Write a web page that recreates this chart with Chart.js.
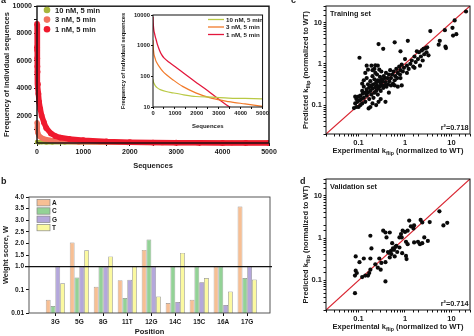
<!DOCTYPE html>
<html>
<head>
<meta charset="utf-8">
<script src="https://cdn.jsdelivr.net/npm/chart.js@4.4.1/dist/chart.umd.min.js"></script>
<style>
  body { margin: 0; background: #fff; }
  #fig { position: relative; width: 474px; height: 336px; overflow: hidden; background: #fff; }
  #fig canvas { position: absolute; }
  .tag { position: absolute; font: bold 9px "Liberation Sans", Arial, sans-serif; color: #1a1a1a; }
</style>
</head>
<body>
<div id="fig">
  <canvas id="a" width="290" height="170" style="left:0px;top:0px"></canvas>
  <canvas id="inset" width="150" height="122" style="left:120px;top:8px"></canvas>
  <canvas id="b" width="290" height="156" style="left:0px;top:180px"></canvas>
  <canvas id="c" width="184" height="170" style="left:290px;top:0px"></canvas>
  <canvas id="d" width="184" height="166" style="left:290px;top:170px"></canvas>
  <div class="tag" style="left:1px;top:-5px">a</div>
  <div class="tag" style="left:1px;top:176px">b</div>
  <div class="tag" style="left:291px;top:-5px">c</div>
  <div class="tag" style="left:300px;top:176px">d</div>
</div>
<script>
// panel a + inset: sequence rank vs frequency, per library
const seq10 = [1, 10, 50, 100, 200, 330, 600, 900, 1400, 1950, 2700, 3450, 4200, 5000];
const freq10 = [80, 70, 58, 50, 42, 37, 32, 29, 25, 22, 21, 19.6, 19, 18.3];
const seq3 = [1, 5, 10, 20, 50, 100, 150, 300, 450, 600, 900, 1350, 1950, 2700, 3450, 4200, 5000];
const freq3 = [1500, 1100, 900, 750, 500, 380, 300, 200, 145, 115, 78, 47, 29, 19, 15, 12.6, 10.5];
const seq1 = [1, 2, 3, 5, 8, 12, 20, 30, 45, 70, 100, 150, 200, 300, 400, 500, 700, 1000, 1500, 2000, 2500, 3000, 3500, 4000, 4500, 5000];
const freq1 = [8700, 7000, 6800, 6200, 5600, 5200, 4300, 3600, 3000, 2500, 2000, 1500, 1100, 700, 500, 400, 300, 210, 112, 61, 34, 18, 10, 7, 5, 4];
const libLabels = ['10 nM, 5 min', '3 nM, 5 min', '1 nM, 5 min'];

// panel b: weight scores per position and base
const positions = ['3G', '5G', '8G', '11T', '12G', '14C', '15C', '16A', '17G'];
const bases = ['A', 'C', 'G', 'T'];
const wA = [0.037, 2.04, 0.135, 0.26, 1.72, 0.027, 0.037, 1.0, 3.59];
const wC = [0.02, 0.34, 1.0, 0.044, 2.17, 1.0, 1.0, 1.0, 0.32];
const wG = [1.0, 1.0, 1.0, 0.27, 1.0, 0.03, 0.21, 0.022, 1.0];
const wT = [0.19, 1.70, 1.44, 1.0, 0.051, 1.59, 0.32, 0.085, 0.28];
const weightTicks = [0.01, 0.1, 1, 1.5, 2, 2.5, 3, 3.5, 4];

// panels c, d: [experimental, predicted] k_flip, normalized to WT
const kRange = [0.02, 25];
const trainingSet = [
  [20.5, 18.4], [11.7, 11.2], [10.5, 7.4], [7.2, 6.5], [10.8, 4.8], [12.7, 5.2], [3.5, 6.2], [5.3, 2.9],
  [7.4, 2.6], [7.6, 2.4], [5.6, 3.6], [1.15, 3.6], [0.6, 3.3], [0.27, 3.0], [0.34, 2.3], [0.8, 2.0], [0.105, 1.4],
  [2.8, 2.4], [2.5, 2.3], [2.3, 2.1], [3.0, 2.5], [2.0, 1.9], [1.8, 2.0], [2.6, 1.7], [2.9, 1.9], [2.2, 1.5],
  [1.9, 1.3], [1.6, 1.5], [1.7, 1.1], [2.1, 0.9], [1.5, 0.85], [1.4, 1.2], [1.3, 1.0], [1.2, 0.75], [1.1, 0.9],
  [1.0, 1.3], [0.95, 0.8], [0.9, 0.65], [0.85, 0.95], [0.8, 0.7], [0.78, 0.55], [0.75, 0.85], [0.7, 0.6],
  [0.68, 0.45], [0.65, 0.75], [0.62, 0.5], [0.6, 0.4], [0.57, 0.65], [0.55, 0.33], [0.53, 0.55], [0.5, 0.45],
  [0.5, 0.3], [0.48, 0.7], [0.46, 0.38], [0.45, 0.55], [0.43, 0.32], [0.42, 0.45], [0.4, 0.28], [0.39, 0.6],
  [0.38, 0.36], [0.37, 0.45], [0.36, 0.3], [0.35, 0.5], [0.34, 0.26], [0.33, 0.38], [0.32, 0.42], [0.31, 0.3],
  [0.3, 0.34], [0.3, 0.22], [0.29, 0.48], [0.28, 0.28], [0.28, 0.38], [0.27, 0.25], [0.26, 0.4], [0.26, 0.18],
  [0.25, 0.3], [0.25, 0.55], [0.24, 0.22], [0.24, 0.35], [0.23, 0.27], [0.23, 0.6], [0.22, 0.2], [0.22, 0.42],
  [0.21, 0.32], [0.21, 0.15], [0.2, 0.25], [0.2, 0.5], [0.19, 0.3], [0.19, 0.18], [0.18, 0.22], [0.18, 0.38],
  [0.17, 0.14], [0.17, 0.27], [0.16, 0.2], [0.16, 0.32], [0.15, 0.17], [0.15, 0.24], [0.15, 0.45], [0.14, 0.12],
  [0.14, 0.2], [0.13, 0.15], [0.13, 0.28], [0.125, 0.19], [0.12, 0.11], [0.12, 0.22], [0.115, 0.14], [0.11, 0.17],
  [0.11, 0.1], [0.105, 0.13], [0.1, 0.16], [0.1, 0.09], [0.095, 0.12], [0.09, 0.14], [0.09, 0.09], [0.085, 0.11],
  [0.085, 0.16], [0.08, 0.085], [0.15, 0.9], [0.19, 0.9], [0.23, 0.92], [0.26, 0.9], [0.16, 0.72], [0.2, 0.7],
  [0.22, 0.75], [0.28, 0.72], [0.31, 0.65], [0.14, 0.6], [0.12, 0.33], [0.13, 0.4], [0.165, 0.083], [0.18, 0.09],
  [0.38, 0.12], [0.27, 0.12], [0.3, 0.14], [0.2, 0.11], [0.24, 0.1], [0.45, 0.2], [0.6, 0.3], [0.7, 0.28],
  [0.85, 0.3], [0.8, 0.45], [1.1, 0.6], [1.6, 0.8], [2.4, 1.2], [3.2, 1.6]
];
const validationSet = [
  [5.5, 4.3], [6.7, 2.0], [8.1, 2.3], [3.4, 2.4], [2.17, 2.7], [2.35, 2.35], [1.23, 2.6], [1.34, 1.9],
  [1.52, 1.7], [1.57, 2.0], [1.14, 1.5], [1.0, 1.4], [0.89, 1.5], [0.82, 1.25], [0.76, 1.04], [0.85, 1.04],
  [1.05, 0.82], [1.14, 0.72], [1.57, 0.79], [1.9, 0.82], [2.35, 0.76], [2.6, 1.04], [3.1, 0.86], [2.1, 0.72],
  [0.76, 0.6], [0.65, 0.66], [0.58, 0.53], [0.68, 0.47], [0.51, 0.42], [0.43, 0.47], [0.47, 0.35], [0.6, 0.37],
  [0.87, 0.44], [1.05, 0.38], [1.08, 0.32], [0.34, 0.5], [0.31, 0.26], [0.38, 0.27], [0.28, 0.33], [0.23, 0.24],
  [0.26, 0.2], [0.3, 0.18], [0.19, 0.57], [0.18, 1.14], [0.34, 1.5], [0.38, 1.36], [0.4, 1.04], [0.47, 1.36],
  [0.53, 0.76], [0.18, 0.33], [0.13, 0.33], [0.105, 0.27], [0.18, 0.18], [0.14, 0.13], [0.16, 0.13], [0.17, 0.15],
  [0.12, 0.12], [0.087, 0.17], [0.084, 0.13], [0.092, 0.15], [0.087, 0.37], [0.38, 0.095], [0.084, 0.05],
  [0.5, 0.5], [0.55, 0.57], [0.62, 0.62], [0.45, 0.45]
];

const FONT = '"Liberation Sans", Arial, sans-serif';
Chart.defaults.font.family = FONT;
Chart.defaults.font.weight = 'bold';
Chart.defaults.font.size = 7;
Chart.defaults.color = '#1a1a1a';
Chart.defaults.animation = false;
Chart.defaults.responsive = false;
Chart.defaults.devicePixelRatio = 1;
Chart.defaults.events = [];
Chart.defaults.plugins.legend.display = false;
Chart.defaults.plugins.tooltip.enabled = false;

const tickGrid = { display: true, drawOnChartArea: false, drawTicks: true, tickLength: 3, tickColor: '#111', tickWidth: 1, offset: false };
const noBorder = { display: false };
const pairs = (xs, ys) => xs.map((x, i) => ({ x: x, y: ys[i] }));
const isDecade = v => { const e = Math.round(Math.log10(v)); return Math.abs(v - Math.pow(10, e)) < 1e-9 * Math.pow(10, e); };

// box around the plot area
const frame = {
  id: 'frame',
  afterDatasetsDraw(chart, args, o) {
    const { ctx, chartArea: a } = chart;
    ctx.save();
    ctx.strokeStyle = o.color || '#111';
    ctx.lineWidth = o.width || 1;
    ctx.strokeRect(a.left, a.top, a.right - a.left, a.bottom - a.top);
    ctx.restore();
  }
};

// ---------- panel a ----------
const aColors = ['#a8b63c', '#f2735f', '#ef1a2e'];
const dotLegend = {
  id: 'dotLegend',
  afterDraw(chart) {
    const ctx = chart.ctx;
    ctx.save();
    chart.data.datasets.forEach((ds, i) => {
      const y = 10 + i * 9.6;
      ctx.beginPath();
      ctx.arc(47, y, 3.3, 0, Math.PI * 2);
      ctx.fillStyle = ds.backgroundColor;
      ctx.fill();
      ctx.font = 'bold 7.5px ' + FONT;
      ctx.fillStyle = '#1a1a1a';
      ctx.textBaseline = 'middle';
      ctx.fillText(ds.label, 55, y + 0.5);
    });
    ctx.restore();
  }
};

new Chart(document.getElementById('a'), {
  type: 'scatter',
  data: {
    datasets: [
      { label: libLabels[0], data: pairs(seq10, freq10), backgroundColor: aColors[0], borderColor: aColors[0], showLine: true, borderWidth: 4, pointRadius: 2.2, pointBorderWidth: 0, order: 2 },
      { label: libLabels[1], data: pairs(seq3, freq3), backgroundColor: aColors[1], borderColor: aColors[1], showLine: true, borderWidth: 5, pointRadius: 2.6, pointBorderWidth: 0, order: 1 },
      { label: libLabels[2], data: pairs(seq1, freq1), backgroundColor: aColors[2], borderColor: aColors[2], showLine: true, borderWidth: 5.5, pointRadius: 2.9, pointBorderWidth: 0, order: 0 }
    ]
  },
  options: {
    layout: { padding: { top: 4, right: 21, left: 0, bottom: 0 } },
    datasets: { scatter: { clip: { left: 6, top: 6, right: 0, bottom: 3 } } },
    scales: {
      x: {
        type: 'linear', min: 0, max: 5000,
        ticks: { stepSize: 500, autoSkip: false, maxRotation: 0, padding: 2, callback: v => v % 1000 === 0 ? v : '' },
        grid: tickGrid, border: noBorder,
        title: { display: true, text: 'Sequences', font: { size: 7.5 }, padding: { top: 1, bottom: 0 } },
        afterFit: s => { s.height = 27; }
      },
      y: {
        min: 0, max: 10000,
        ticks: { stepSize: 1000, autoSkip: false, padding: 2, callback: v => v > 0 && v % 2000 === 0 ? v : '' },
        grid: tickGrid, border: noBorder,
        title: { display: true, text: 'Frequency of individual sequences', font: { size: 7.5 }, padding: { top: 2, bottom: 0 } },
        afterFit: s => { s.width = 37; }
      }
    },
    plugins: { frame: { width: 1.4 } }
  },
  plugins: [frame, dotLegend]
});

// ---------- inset ----------
const inColors = ['#b9c944', '#f27a2a', '#e3173c'];
const lineLegend = {
  id: 'lineLegend',
  afterDraw(chart) {
    const ctx = chart.ctx;
    ctx.save();
    chart.data.datasets.forEach((ds, i) => {
      const y = 11.5 + i * 7.5;
      ctx.strokeStyle = ds.borderColor;
      ctx.lineWidth = 1.3;
      ctx.beginPath();
      ctx.moveTo(88, y);
      ctx.lineTo(104, y);
      ctx.stroke();
      ctx.font = 'bold 6.2px ' + FONT;
      ctx.fillStyle = '#1a1a1a';
      ctx.textBaseline = 'middle';
      ctx.fillText(ds.label, 106, y + 0.5);
    });
    ctx.restore();
  }
};

new Chart(document.getElementById('inset'), {
  type: 'line',
  data: {
    datasets: [
      { label: libLabels[0], data: pairs(seq10, freq10), borderColor: inColors[0], borderWidth: 1.2, pointRadius: 0, tension: 0.3 },
      { label: libLabels[1], data: pairs(seq3, freq3), borderColor: inColors[1], borderWidth: 1.2, pointRadius: 0, tension: 0.3 },
      { label: libLabels[2], data: pairs(seq1, freq1), borderColor: inColors[2], borderWidth: 1.3, pointRadius: 0, tension: 0.3 }
    ]
  },
  options: {
    layout: { padding: { top: 7, right: 6, left: 0, bottom: 0 } },
    scales: {
      x: {
        type: 'linear', min: 0, max: 5000,
        ticks: { stepSize: 500, autoSkip: false, maxRotation: 0, padding: 1, font: { size: 5.8 }, callback: v => v % 1000 === 0 ? v : '' },
        grid: Object.assign({}, tickGrid, { tickLength: 2 }), border: noBorder,
        title: { display: true, text: 'Sequences', font: { size: 6 }, padding: { top: 0, bottom: 0 } },
        afterFit: s => { s.height = 23; }
      },
      y: {
        type: 'logarithmic', min: 10, max: 10000,
        ticks: { autoSkip: false, padding: 1, font: { size: 5.8 }, callback: v => isDecade(v) ? String(Math.round(v)) : '' },
        grid: Object.assign({}, tickGrid, { tickLength: 2, tickColor: c => c.tick && isDecade(c.tick.value) ? '#111' : 'rgba(0,0,0,0)' }),
        border: noBorder,
        title: { display: true, text: 'Frequency of individual sequences', font: { size: 5.8 }, padding: { top: 0, bottom: 0 } },
        afterFit: s => { s.width = 33; }
      }
    },
    plugins: { frame: { width: 1 } }
  },
  plugins: [frame, lineLegend]
});

// ---------- panel b: log part below 1.0, linear part above ----------
class BrokenScale extends Chart.LinearScale {
  determineDataLimits() {
    this.min = weightTicks[0];
    this.max = weightTicks[weightTicks.length - 1];
  }
  buildTicks() {
    return weightTicks.map(v => ({ value: v }));
  }
  span() {
    return -Math.log10(this.min) + (this.max - 1);
  }
  getPixelForValue(v) {
    if (!(v > 0)) v = this.min;
    const t = v >= 1 ? -Math.log10(this.min) + (v - 1) : Math.log10(v) - Math.log10(this.min);
    return this.getPixelForDecimal(t / this.span());
  }
  getValueForPixel(px) {
    const t = this.getDecimalForPixel(px) * this.span();
    const lo = -Math.log10(this.min);
    return t >= lo ? 1 + (t - lo) : this.min * Math.pow(10, t);
  }
}
BrokenScale.id = 'broken';
BrokenScale.defaults = {};
Chart.register(BrokenScale);

const baseColors = ['#f7bf94', '#93d296', '#b4a7db', '#fbf9a0'];
const weights = [wA, wC, wG, wT];

const unityLine = {
  id: 'unityLine',
  afterDatasetsDraw(chart) {
    const { ctx, chartArea: a, scales } = chart;
    const y = scales.y.getPixelForValue(1);
    ctx.save();
    ctx.strokeStyle = '#111';
    ctx.lineWidth = 1.3;
    ctx.beginPath();
    ctx.moveTo(a.left - 4, y);
    ctx.lineTo(a.right + 2, y);
    ctx.stroke();
    ctx.restore();
  }
};
const boxLegend = {
  id: 'boxLegend',
  afterDraw(chart) {
    const ctx = chart.ctx;
    ctx.save();
    chart.data.datasets.forEach((ds, i) => {
      const y = 22.7 + i * 8.3;
      ctx.fillStyle = ds.backgroundColor;
      ctx.fillRect(37, y - 3.2, 13, 6.4);
      ctx.strokeStyle = '#888';
      ctx.lineWidth = 0.7;
      ctx.strokeRect(37, y - 3.2, 13, 6.4);
      ctx.font = 'bold 6.5px ' + FONT;
      ctx.fillStyle = '#1a1a1a';
      ctx.textBaseline = 'middle';
      ctx.fillText(ds.label, 52, y + 0.5);
    });
    ctx.restore();
  }
};

new Chart(document.getElementById('b'), {
  type: 'bar',
  data: {
    datasets: bases.map((b, k) => ({
      label: b,
      data: weights[k].map((v, i) => ({ x: i + 1, y: v })),
      backgroundColor: baseColors[k],
      borderColor: '#8a8a8a',
      borderWidth: 0.7,
      categoryPercentage: 0.8,
      barPercentage: 1
    }))
  },
  options: {
    layout: { padding: { top: 17, right: 20, left: 0, bottom: 0 } },
    scales: {
      x: {
        type: 'linear', min: -0.1, max: 9.95, offset: false,
        afterBuildTicks: s => { s.ticks = positions.map((p, i) => ({ value: i + 1 })); },
        ticks: { autoSkip: false, maxRotation: 0, padding: 2, font: { size: 6.5 }, callback: v => positions[v - 1] },
        grid: tickGrid, border: noBorder,
        title: { display: true, text: 'Position', font: { size: 7.5 }, padding: { top: 1, bottom: 0 } },
        afterFit: s => { s.height = 23; }
      },
      y: {
        type: 'broken',
        ticks: { autoSkip: false, padding: 2, font: { size: 6.5 }, callback: v => v < 1 ? String(v) : v.toFixed(1) },
        grid: tickGrid, border: noBorder,
        title: { display: true, text: 'Weight score, W', font: { size: 7.5 }, padding: { top: 1, bottom: 0 } },
        afterFit: s => { s.width = 29; }
      }
    },
    plugins: { frame: { width: 0.9, color: '#444' } }
  },
  plugins: [frame, unityLine, boxLegend]
});

// ---------- panels c and d ----------
function richText(ctx, parts, x, y, angle) {
  const big = 'bold 7.5px ' + FONT, small = 'bold 5.3px ' + FONT;
  ctx.save();
  ctx.translate(x, y);
  ctx.rotate(angle);
  ctx.fillStyle = '#1a1a1a';
  ctx.textBaseline = 'middle';
  ctx.textAlign = 'left';
  let w = 0;
  parts.forEach(p => { ctx.font = p.sub ? small : big; w += ctx.measureText(p.t).width; });
  let cx = -w / 2;
  parts.forEach(p => {
    ctx.font = p.sub ? small : big;
    ctx.fillText(p.t, cx, p.sub ? 2.6 : 0);
    cx += ctx.measureText(p.t).width;
  });
  ctx.restore();
}

const kTitles = {
  id: 'kTitles',
  afterDraw(chart, args, o) {
    const { ctx, chartArea: a } = chart;
    richText(ctx, [{ t: 'Experimental k' }, { t: 'flip', sub: true }, { t: ' (normalized to WT)' }], (a.left + a.right) / 2, o.xTitleY, 0);
    richText(ctx, [{ t: 'Predicted k' }, { t: 'flip', sub: true }, { t: ' (normalized to WT)' }], o.yTitleX, (a.top + a.bottom) / 2, -Math.PI / 2);
    ctx.save();
    ctx.fillStyle = '#1a1a1a';
    ctx.textBaseline = 'middle';
    ctx.font = 'bold 7.3px ' + FONT;
    ctx.textAlign = 'left';
    ctx.fillText(o.name, a.left + 4, a.top + 7.5);
    ctx.textAlign = 'right';
    ctx.fillText('r\u00b2=' + o.r2, a.right - 1.5, a.bottom - 6.5);
    ctx.restore();
  }
};

function kflipChart(id, points, name, r2, padTop, xHeight, xTitleY) {
  const logAxis = {
    type: 'logarithmic', min: kRange[0], max: kRange[1],
    ticks: { autoSkip: false, maxRotation: 0, padding: 1.5, font: { size: 7.5 }, callback: v => isDecade(v) && v >= 0.1 && v <= 10 ? String(+v.toPrecision(1)) : '' },
    grid: Object.assign({}, tickGrid, { tickLength: 2.5 }),
    border: noBorder
  };
  new Chart(document.getElementById(id), {
    type: 'scatter',
    data: {
      datasets: [
        { data: points.map(p => ({ x: p[0], y: p[1] })), backgroundColor: '#0a0a0a', borderWidth: 0, pointRadius: 2.1 },
        { data: kRange.map(v => ({ x: v, y: v })), showLine: true, borderColor: '#d9232f', borderWidth: 1.2, pointRadius: 0 }
      ]
    },
    options: {
      layout: { padding: { top: padTop, right: 1.5, left: 0, bottom: 0 } },
      scales: {
        x: Object.assign({}, logAxis, { afterFit: s => { s.height = xHeight; } }),
        y: Object.assign({}, logAxis, { afterFit: s => { s.width = 36; } })
      },
      plugins: { frame: { width: 1 }, kTitles: { name: name, r2: r2, xTitleY: xTitleY, yTitleX: 16 } }
    },
    plugins: [frame, kTitles]
  });
}

kflipChart('c', trainingSet, 'Training set', '0.718', 4, 36, 151);
kflipChart('d', validationSet, 'Validation set', '0.714', 9, 26, 157);
</script>
</body>
</html>
